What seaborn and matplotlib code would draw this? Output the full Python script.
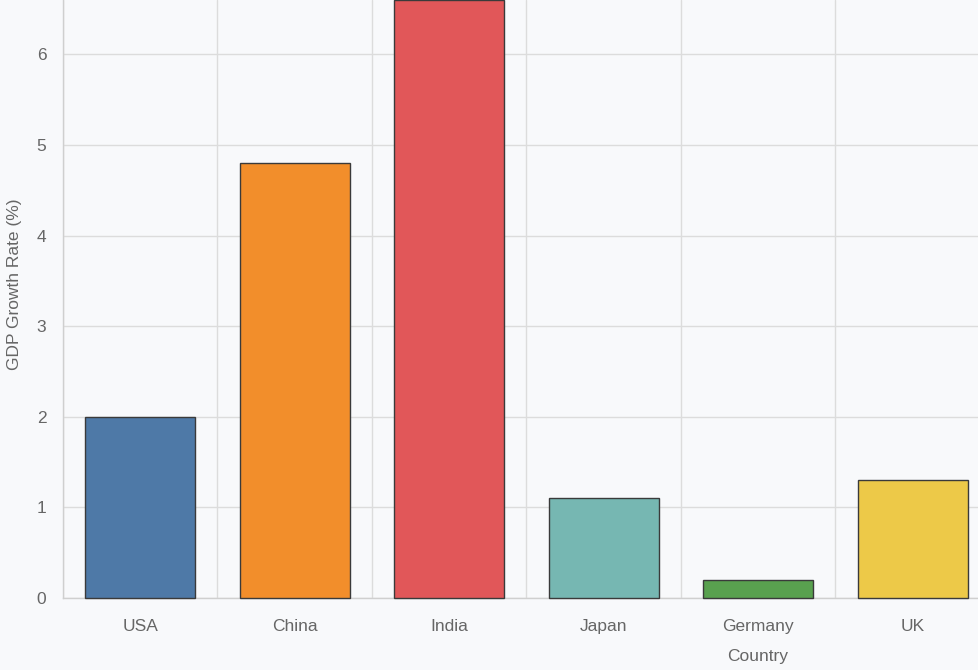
import matplotlib
matplotlib.use("Agg")
import matplotlib.pyplot as plt
import seaborn as sns
import pandas as pd
import numpy as np

countries = ["USA", "China", "India", "Japan", "Germany", "UK"]
gdp_growth = [2.0, 4.8, 6.6, 1.1, 0.2, 1.3]
colors = ["#4e79a7", "#f28e2b", "#e15759", "#76b7b2", "#59a14f", "#edc948"]
y_ticks = [0, 1, 2, 3, 4, 5, 6]

df = pd.DataFrame({"Country": countries, "GDP": gdp_growth})

sns.set_theme(style="white")
plt.rcParams["font.family"] = ["Liberation Sans", "DejaVu Sans"]

bg = "#f8f9fb"
fig = plt.figure(figsize=(9.79, 6.70), dpi=100, facecolor=bg)
W, H = 979, 670
left, right, bottom, top = 63, 990, 598, 0
ax = fig.add_axes([left / W, (H - bottom) / H, (right - left) / W, (bottom - top) / H])
ax.set_facecolor(bg)

sns.barplot(data=df, x="Country", y="GDP", hue="Country", palette=colors,
            saturation=1, legend=False, width=0.71, edgecolor="#3a3a3a",
            linewidth=1.0, ax=ax, zorder=3)
for p in ax.patches:
    p.set_clip_on(False)

ax.set_xlim(-0.5, len(countries) - 0.5)
ax.set_ylim(0, 6.6)
ax.set_yticks(y_ticks)
ax.set_xticks(np.arange(-0.5, len(countries), 1.0), minor=True)

ax.grid(False)
ax.yaxis.grid(True, color="#dcdcdc", linewidth=1, zorder=0)
ax.xaxis.grid(True, which="minor", color="#dcdcdc", linewidth=1, zorder=0)
ax.set_axisbelow(True)

for s in ["top", "right"]:
    ax.spines[s].set_visible(False)
for s in ["left", "bottom"]:
    ax.spines[s].set_color("#cfcfcf")
    ax.spines[s].set_linewidth(1)

ax.tick_params(axis="x", which="major", length=0, pad=15, labelsize=12.5, labelcolor="#666666")
ax.tick_params(axis="x", which="minor", length=8, width=1, color="#dcdcdc", direction="out")
ax.tick_params(axis="y", length=7, width=1, color="#dcdcdc", pad=5, labelsize=12.5, labelcolor="#666666")

ax.set_xlabel("Country", fontsize=12.5, color="#666666")
ax.xaxis.set_label_coords((758 - left) / (right - left), -(649 - bottom) / (bottom - top))
ax.set_ylabel("GDP Growth Rate (%)", fontsize=12.5, color="#666666")
ax.yaxis.set_label_coords(-(63 - 7) / (right - left), 0.525)
ax.yaxis.label.set_verticalalignment("top")

fig.savefig("out.png", dpi=100, facecolor=bg)
